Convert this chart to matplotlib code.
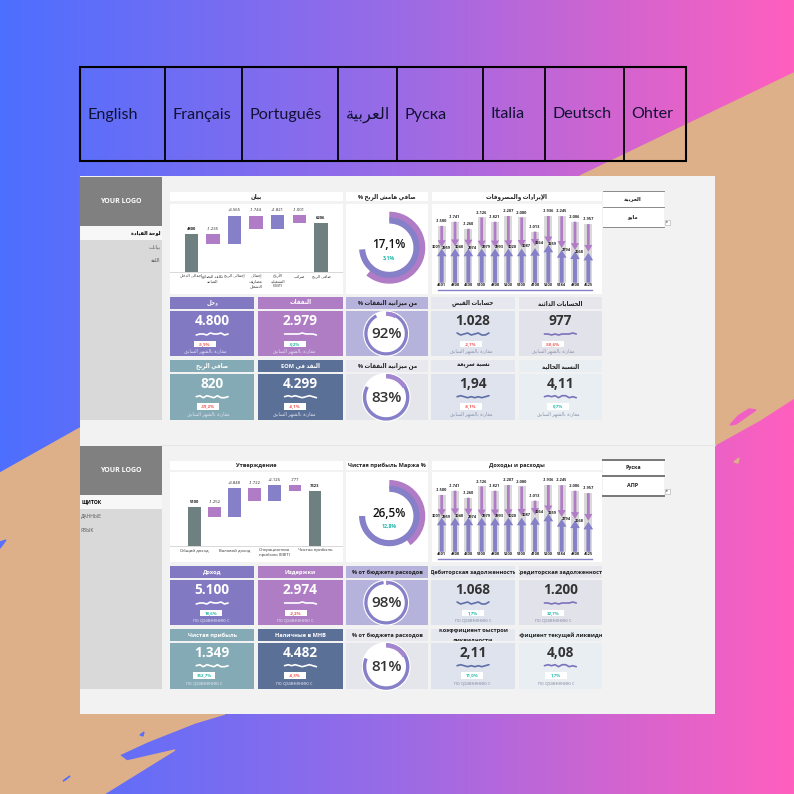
import unicodedata
import numpy as np
import matplotlib
matplotlib.use("Agg")
import matplotlib.pyplot as plt
from matplotlib.patches import Rectangle
from matplotlib.colors import LinearSegmentedColormap

plt.rcParams['font.family'] = ['Open Sans', 'DejaVu Sans']

SIZE = 794

# top language table
languages = ["English", "Français", "Português", "العربية", "Руска", "Italia", "Deutsch", "Ohter"]

# waterfall
wf_ar_labels = ["إجمالي الدخل", "تكلفة البضائع\nالمباعة", "إجمالي الربح", "إجمالي\nمصاريف\nالتشغيل",
                "الأرباح\nالتشغيلية\n(EBIT)", "ضرائب", "صافي الربح"]
wf_ar_values = [4800, -1235, 3565, -1744, 1821, -1001, 6206]
wf_ru_labels = ["Общий доход", "", "Валовой доход", "", "Операционная\nприбыль (EBIT)", "", "Чистая прибыль"]
wf_ru_values = [5100, -1252, 3848, -1722, 2126, -777, 7323]

# revenue / expense bars
revenue = [4501, 4800, 4300, 5100, 4800, 5200, 5100, 4100, 5200, 5184, 4800, 4625]
expenses = [1500, 1741, 1260, 2126, 1821, 2207, 2080, 1013, 1936, 2245, 2006, 1957]
up_tips = [2900, 2900, 2900, 2900, 2900, 2900, 2900, 2940, 3180, 2800, 2700, 2610]
net_labels = [2959, 3040, 2974, 2979, 2993, 3020, 3087, 3264, 3259, 2794, 2668]

# margin donuts (purple arc, blue arc)
margin_ar = [0.61, 0.74]
margin_ru = [0.40, 0.75]

# cards
titles_ar = ["دخل", "النفقات", "من ميزانية النفقات %", "حسابات القبض", "الحسابات الدائنة",
             "صافي الربح", "النقد في EOM", "من ميزانية النفقات %", "نسبة سريعة", "النسبة الحالية"]
values_ar = ["4.800", "2.979", "92%", "1.028", "977", "820", "4.299", "83%", "1,94", "4,11"]
deltas_ar = ["-5,9%", "0,2%", "", "-2,7%", "-50,6%", "-39,2%", "-4,1%", "", "-8,1%", "0,7%"]
titles_ru = ["Доход", "Издержки", "% от бюджета расходов", "Дебиторская задолженность", "Кредиторская задолженность",
             "Чистая прибыль", "Наличные в МНВ", "% от бюджета расходов", "Коэффициент быстрой\nликвидности",
             "Коэффициент текущей ликвидности"]
values_ru = ["5.100", "2.974", "98%", "1.068", "1.200", "1.349", "4.482", "81%", "2,11", "4,08"]
deltas_ru = ["18,6%", "-2,2%", "", "1,7%", "32,7%", "352,7%", "-4,3%", "", "11,0%", "1,7%"]
gauge_ar = [0.92, 0.83]
gauge_ru = [0.98, 0.81]
gauge_top_ar = [0.08, 0.17]
gauge_top_ru = [0.02, 0.17]

# sparklines, one per kpi card
sparks = [
    [1, 2, 2, 1, 3, 2, 2, 3, 1, 2],
    [2, 2, 2, 2, 2, 3, 2, 2, 2, 1],
    [],
    [3, 1, 2, 3, 1, 2, 3, 1, 1, 3],
    [2, 2, 1, 2, 1, 2, 2, 2, 3, 2],
    [2, 3, 1, 3, 2, 1, 3, 1, 1, 2],
    [2, 3, 2, 3, 2, 1, 2, 3, 2, 1],
    [],
    [2, 3, 2, 1, 2, 1, 2, 1, 2, 3],
    [2, 3, 2, 3, 1, 3, 3, 1, 2, 1],
]

# layout
table_x = [80, 165, 242, 338, 397, 482.5, 545, 624, 685.5]
col_x = [(170, 254.3), (257.7, 343.3), (346, 428.3), (431, 515), (519, 601.7)]
badge_shift_ar = [-7, -6, 0, -2, -7, -4, -6, 0, -2, -2]
badge_shift_ru = [-1, -5, 0, 0, -7, -8, -6, 0, -1, -4]
card_bg = ["#8279c3", "#af7dc4", "#b5b2dc", "#dfe3ed", "#e2e2ea",
           "#84abb5", "#5b7096", "#e5e5ec", "#dfe3ed", "#e8eef1"]
card_head = ["#8279c3", "#af7dc4", "#b5b2dc", "#e6e8f0", "#e6e6ec",
             "#84abb5", "#5b7096", "#e8e8ee", "#e6e8f0", "#e8eef1"]
BLUE = "#8580c8"
PURPLE = "#b07cc6"
SLATE = "#6f8080"
TEAL = "#1fb8a8"
RED = "#ef5350"


forms = {}
for cp in range(0xFE70, 0xFEFD):
    parts = unicodedata.decomposition(chr(cp)).split()
    if len(parts) == 2 and parts[0] in ("<isolated>", "<final>", "<initial>", "<medial>"):
        forms.setdefault(chr(int(parts[1], 16)), {})[parts[0]] = chr(cp)
ligatures = {"لأ": "\ufef7", "لإ": "\ufef9", "لا": "\ufefb", "لآ": "\ufef5"}
for lig in ligatures.values():
    forms[lig] = {"<isolated>": lig, "<final>": chr(ord(lig) + 1)}


def shape_word(word):
    if not any(c in forms for c in word):
        return word
    for a, b in ligatures.items():
        word = word.replace(a, b)
    out = []
    for i, c in enumerate(word):
        f = forms.get(c, {})
        prev_joins = i > 0 and "<initial>" in forms.get(word[i - 1], {})
        next_joins = i < len(word) - 1 and word[i + 1] in forms and "<initial>" in f
        if prev_joins and next_joins:
            out.append(f.get("<medial>", c))
        elif prev_joins:
            out.append(f.get("<final>", c))
        elif next_joins:
            out.append(f["<initial>"])
        else:
            out.append(f.get("<isolated>", c))
    return "".join(reversed(out))


def ar(text):
    # matplotlib does no shaping or bidi, so do the basic part here
    lines = []
    for line in text.split("\n"):
        lines.append(" ".join(shape_word(w) for w in reversed(line.split(" "))))
    return "\n".join(lines)


def dotted(v):
    return f"{abs(v):,}".replace(",", ".")


fig = plt.figure(figsize=(SIZE / 100, SIZE / 100), dpi=100)


def px_axes(x0, y0, x1, y1):
    a = fig.add_axes([x0 / SIZE, 1 - y1 / SIZE, (x1 - x0) / SIZE, (y1 - y0) / SIZE])
    return a


base = px_axes(0, 0, SIZE, SIZE)
base.set_xlim(0, SIZE)
base.set_ylim(SIZE, 0)
base.axis("off")

# background
cmap = LinearSegmentedColormap.from_list("bg", ["#4d6fff", "#9a6be6", "#ff5fbe"])
base.imshow(np.linspace(0, 1, 400).reshape(1, -1), cmap=cmap, extent=(0, SIZE, SIZE, 0), aspect="auto", zorder=0)
TAN = "#deb08a"
base.fill([794, 580, 560, 715, 760, 794], [73, 176, 300, 445, 420, 398], color=TAN, zorder=1)
base.fill([0, 80, 80, 225, 195, 147, 119, 127, 175, 104, 0], [473, 428, 714, 714, 723, 742, 755, 761, 750, 794, 794],
          color=TAN, zorder=1)
base.fill([730, 738, 749, 756, 746, 736], [425, 416, 409, 410, 417, 424], color="#f060c4", zorder=2)
base.fill([0, 6, 0], [542, 540, 548], color="#5a6ffa", zorder=2)
base.fill([140, 144, 143], [735, 732, 736], color="#5a6ffa", zorder=2)
base.fill([63, 70, 65], [781, 776, 780], color="#5a6ffa", zorder=2)
base.fill([734, 739, 738], [462, 458, 463], color=TAN, zorder=2)

# language table
base.add_patch(Rectangle((table_x[0], 66.5), table_x[-1] - table_x[0], 94, fill=False, ec="black", lw=1.5, zorder=3))
for x in table_x[1:-1]:
    base.plot([x, x], [66.5, 160.5], color="black", lw=1.3, zorder=3)
for x, name in zip(table_x, languages):
    txt = ar(name) if name == "العربية" else name
    base.text(x + 7.5, 114.5, txt, fontsize=11.6, family=['Lato', 'DejaVu Sans'], va="center", color="#111133", zorder=4)

# panel
base.add_patch(Rectangle((80, 176), 635, 538, fc="#f2f2f2", ec="none", zorder=2))
base.plot([161, 715], [445, 445], color="#e6e6e6", lw=0.8, zorder=3)


def box(x0, y0, x1, y1, color, z=3):
    base.add_patch(Rectangle((x0, y0), x1 - x0, y1 - y0, fc=color, ec="none", zorder=z))


def sidebar(top, bottom, items, arabic):
    box(80, top, 161.5, top + 49.5, "#808080")
    box(80, top + 49.5, 161.5, top + 63.5, "#f7f7f7")
    box(80, top + 63.5, 161.5, bottom, "#d9d9d9")
    base.text(120.5, top + 25, "YOUR LOGO", color="white", fontsize=5, fontweight="bold", ha="center", va="center", zorder=5)
    for i, item in enumerate(items):
        y = top + 56.5 + i * 14
        weight = "bold" if i == 0 else "normal"
        color = "black" if i == 0 else "#555555"
        if arabic:
            base.text(160.5, y, ar(item), fontsize=3.6, fontweight=weight, ha="right", va="center", color=color, zorder=5)
        else:
            base.text(81, y, item, fontsize=3.6, fontweight=weight, ha="left", va="center", color=color, zorder=5)


sidebar(176.5, 420, ["لوحة القيادة", "بيانات", "اللغة"], True)
sidebar(445.5, 689, ["ЩИТОК", "ДАННЫЕ", "ЯЗЫК"], False)


def waterfall(top, baseline, first, step, scale, labels, vals, arabic):
    a = px_axes(170, top, 343.3, top + 89.5)
    a.set_facecolor("white")
    a.set_xlim((170 - first) / step, (343.3 - first) / step)
    a.set_ylim(-(top + 89.5 - baseline) / scale, (baseline - top) / scale)
    running = 0
    for i, v in enumerate(vals):
        if i == 0 or i == len(vals) - 1:
            bottom, height, color = 0, v, SLATE
            running = v
            txt = str(v)
        elif v < 0:
            bottom, height, color = running + v, -v, PURPLE
            running += v
            txt = "-" + dotted(v)
        else:
            bottom, height, color = running, v, BLUE
            running += v
            txt = "+" + dotted(v)
        a.bar(i, height, 0.62, bottom=bottom, color=color)
        a.text(i, bottom + height + 400, txt, fontsize=3.0, ha="center", va="bottom",
               fontweight="bold" if color == SLATE else "normal", color="#222222")
    a.axhline(0, color="#d8d8d8", lw=0.7, zorder=0)
    for i, lab in enumerate(labels):
        txt = ar(lab) if arabic else lab
        a.text(i, -(2.5 / scale), txt, fontsize=2.8 if arabic else 3.1, ha="center", va="top", color="#333333", linespacing=1.25)
    a.set_xticks([])
    a.set_yticks([])
    for s in a.spines.values():
        s.set_visible(False)


def donut(cx, cy, vals, big, small):
    R = 36
    a = px_axes(cx - R, cy - R, cx + R, cy + R)
    a.pie([vals[0]], radius=1.0, colors=[PURPLE], startangle=90, counterclock=False, normalize=False,
          wedgeprops=dict(width=0.25))
    a.pie([vals[1]], radius=0.84, colors=[BLUE], startangle=90, counterclock=False, normalize=False,
          wedgeprops=dict(width=0.17))
    a.set_xlim(-1, 1)
    a.set_ylim(-1, 1)
    a.text(0, 0.08, big, fontsize=8.5, fontweight="semibold", ha="center", va="center", color="#111111")
    a.text(0, -0.30, small, fontsize=3.8, fontweight="bold", ha="center", va="center", color=TEAL)


def arrows_chart(top, baseline):
    scale = 0.01417
    h = 89.5
    first, step = 441.7, 13.33
    a = px_axes(431.7, top, 602, top + h)
    a.set_facecolor("white")
    a.set_xlim((431.7 - first) / step, (602 - first) / step)
    a.set_ylim(-(top + h - baseline) / scale, (baseline - top) / scale)
    x = np.arange(len(revenue))
    a.bar(x, revenue, 0.62, color="#d9d9d9", zorder=1)
    for i in x:
        a.annotate("", xy=(i, up_tips[i]), xytext=(i, 0), zorder=2,
                   arrowprops=dict(width=2.8, headwidth=7, headlength=5.5, color=BLUE, shrink=0, lw=0))
        a.annotate("", xy=(i, revenue[i] - expenses[i]), xytext=(i, revenue[i]), zorder=3,
                   arrowprops=dict(width=2.0, headwidth=5.8, headlength=5, color=PURPLE, shrink=0, lw=0))
        a.text(i, revenue[i] + 200, "-" + dotted(expenses[i]), fontsize=2.8, ha="center",
               va="bottom", fontweight="bold", color="#222222", zorder=6)
        a.text(i, 300, str(revenue[i]), fontsize=2.9, ha="center", va="center", fontweight="bold", color="#222222", zorder=6)
    a.axhspan(0, 494, color="white", zorder=4)
    a.plot([x[0] - 0.3, x[-1] + 0.3], [0, 0], color=BLUE, lw=1.0, zorder=5)
    a.text(-0.38, revenue[0] - expenses[0], str(revenue[0] - expenses[0]), fontsize=2.9, ha="center", va="center",
           fontweight="bold", color="#222222", zorder=6)
    for i, v in enumerate(net_labels):
        a.text(i + 0.33, v, str(v), fontsize=2.9, ha="center", va="center", fontweight="bold", color="#222222", zorder=6)
    a.set_xticks([])
    a.set_yticks([])
    for s in a.spines.values():
        s.set_visible(False)


def gauge(cx, cy, R, value, top_part, text):
    a = px_axes(cx - R, cy - R, cx + R, cy + R)
    a.add_patch(plt.Circle((0, 0), 1.0, fc="white", ec="none"))
    a.pie([value], radius=0.95, colors=[BLUE], startangle=90, counterclock=False, normalize=False,
          wedgeprops=dict(width=0.14))
    a.pie([top_part], radius=0.95, colors=["#a386cf"], startangle=90, counterclock=False, normalize=False,
          wedgeprops=dict(width=0.18))
    a.set_xlim(-1, 1)
    a.set_ylim(-1, 1)
    a.text(0, -0.02, text, fontsize=11, fontweight="semibold", ha="center", va="center", color="#333333")


def spark(x0, x1, y0, y1, vals, color):
    a = px_axes(x0, y0, x1, y1)
    a.plot(np.arange(len(vals)), vals, color=color, lw=1.2, solid_capstyle="round")
    a.set_ylim(-3, 7)
    a.axis("off")


def cards(tops, titles, values, deltas, gauges, tops_part, shifts, compare, arabic):
    for idx in range(10):
        row = idx // 5
        col = idx % 5
        x0, x1 = col_x[col]
        head0, head1, body0, body1 = tops[row]
        box(x0, head0, x1, head1, card_head[idx])
        box(x0, body0, x1, body1, card_bg[idx])
        dark = col < 2
        title_color = "white" if dark else "#222222"
        title = ar(titles[idx]) if arabic else titles[idx]
        t = base.text((x0 + x1) / 2, (head0 + head1) / 2, title, fontsize=4.1, fontweight="bold", ha="center",
                      va="center", color=title_color, zorder=5, linespacing=2.1)
        t.set_clip_on(True)
        t.set_clip_path(Rectangle((x0, head0), x1 - x0, head1 - head0, transform=base.transData))
        mid = (x0 + x1) / 2
        if col == 2:
            R = 23 if row == 0 else 24.5
            gauge(mid - 1, (body0 + body1) / 2 - (0 if row == 0 else -0.5), R, gauges[row], tops_part[row], values[idx])
            continue
        num_color = "white" if dark else "#333333"
        base.text(mid, body0 + 10.3, values[idx], fontsize=9.8, fontweight="bold", ha="center", va="center",
                  color=num_color, zorder=5)
        line_color = "white" if dark else "#5d6fa8" if col == 3 else "#7a72bd"
        spark(mid - 17.5, mid + 17.5, body0 + 18, body0 + 28, sparks[idx], line_color)
        bx = mid + shifts[idx]
        box(bx - 11, body0 + 29.5, bx + 11, body0 + 36, "white", z=4)
        delta = deltas[idx]
        base.text(bx, body0 + 32.7, delta, fontsize=3.2, fontweight="bold", ha="center", va="center",
                  color=RED if delta.startswith("-") else TEAL, zorder=5)
        cmp_color = "#dfe0f0" if dark else "#8a93ab"
        base.text(bx, body0 + 40.3, compare, fontsize=3.4, ha="center", va="center", color=cmp_color, zorder=5)


def slicer(top, first, second, thick):
    box(602.5, top, 664, top + 35.7, "white")
    lw = 1.4 if thick else 0.6
    for dy in (0, 16, 35.7):
        base.plot([602.5, 664], [top + dy, top + dy], color="#777777", lw=lw, zorder=5)
    base.text(633, top + 8, first, fontsize=3.9, fontweight="bold", ha="center", va="center", color="#222222", zorder=6)
    base.text(633, top + 25.5, second, fontsize=3.9, fontweight="bold", ha="center", va="center", color="#222222", zorder=6)
    base.add_patch(Rectangle((665, top + 29), 4.5, 5, fc="white", ec="#aaaaaa", lw=0.4, zorder=5))
    base.text(667.2, top + 31.5, "▾", fontsize=2.5, ha="center", va="center", zorder=6)


def titles_row(top, t1, t2, t3):
    box(170, top, 343.3, top + 9.5, "white")
    box(346, top, 428.3, top + 9.5, "white")
    box(431.7, top, 602, top + 9.5, "white")
    for x, t in zip((256.6, 387, 516.8), (t1, t2, t3)):
        base.text(x, top + 4.8, t, fontsize=4.1, fontweight="bold", ha="center", va="center", color="#222222", zorder=5)


# arabic block
titles_row(191.7, ar("بيان"), ar("صافي هامش الربح %"), ar("الإيرادات والمصروفات"))
waterfall(204, 271.7, 191.3, 21.6, 0.00788, wf_ar_labels, wf_ar_values, True)
box(346, 204, 428.3, 293.5, "white")
donut(389.3, 247.7, margin_ar, "17,1%", "3,1%")
arrows_chart(204, 289.7)
slicer(191, ar("العربية"), ar("مايو"), False)
cards([(297.3, 308.7, 311, 356.3), (360, 372, 373.7, 420)], titles_ar, values_ar, deltas_ar, gauge_ar, gauge_top_ar,
      badge_shift_ar, ar("مقارنة بالشهر السابق"), True)

# russian block
titles_row(460.7, "Утверждение", "Чистая прибыль Маржа %", "Доходы и расходы")
waterfall(472.3, 545.7, 194.3, 20.1, 0.00752, wf_ru_labels, wf_ru_values, False)
box(346, 472.3, 428.3, 562, "white")
donut(389.3, 516, margin_ru, "26,5%", "12,8%")
arrows_chart(472.3, 558.7)
slicer(460, "Руска", "АПР", True)
cards([(566.3, 578, 580, 625.3), (629.3, 641, 642.7, 689.3)], titles_ru, values_ru, deltas_ru, gauge_ru,
      gauge_top_ru, badge_shift_ru, "по сравнению с", False)

fig.savefig("out.png", dpi=100)
